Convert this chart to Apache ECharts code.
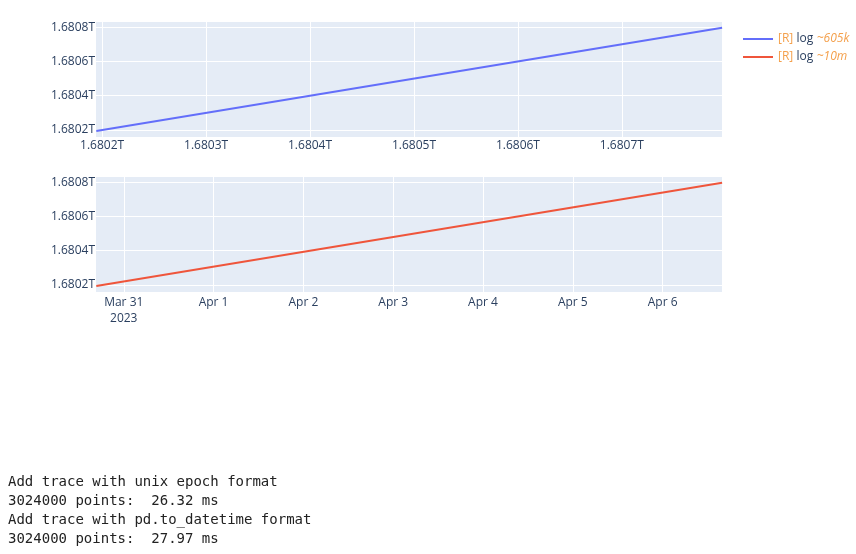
<!DOCTYPE html>
<html><head><meta charset="utf-8">
<script src="https://cdn.jsdelivr.net/npm/echarts@6/dist/echarts.min.js"></script>
<style>html,body{margin:0;padding:0;background:#fff}#c{width:856px;height:554px}</style>
</head><body><div id="c"></div>
<script>
const seriesNames = ['[R] log ~605k', '[R] log ~10m'];
const xValues = [1680194400000, 1680796400000];
const yValues = [1680194400000, 1680796400000];
const topXTicks = [1.6802e12, 1.6803e12, 1.6804e12, 1.6805e12, 1.6806e12, 1.6807e12];
const yTicks = [1.6802e12, 1.6804e12, 1.6806e12, 1.6808e12];
const dayTicks = [Date.UTC(2023,2,31),Date.UTC(2023,3,1),Date.UTC(2023,3,2),Date.UTC(2023,3,3),Date.UTC(2023,3,4),Date.UTC(2023,3,5),Date.UTC(2023,3,6)];
const dayLabels = ['Mar 31\n2023','Apr 1','Apr 2','Apr 3','Apr 4','Apr 5','Apr 6'];
const logLines = ['Add trace with unix epoch format','3024000 points:  26.32 ms','Add trace with pd.to_datetime format','3024000 points:  27.97 ms'];

const data = xValues.map((x,i)=>[x, yValues[i]]);
const xMin = 1680194100000, xMax = 1680796300000;
const yMin = 1680159000000, yMax = 1680830000000;
const tfmt = v => (v/1e12).toFixed(4) + 'T';
const lab = {color:'#2a3f5f', fontSize:12, fontFamily:'Open Sans, sans-serif'};
function yAxis(idx){
  return {type:'value', gridIndex:idx, min:yMin, max:yMax,
    axisLine:{show:false}, axisTick:{show:false, customValues:yTicks},
    splitLine:{show:true, lineStyle:{color:'#fff', width:1}},
    axisLabel:Object.assign({customValues:yTicks, formatter:tfmt, margin:1}, lab)};
}
const chart = echarts.init(document.getElementById('c'));
chart.setOption({
  animation:false,
  legend:{left:738, top:28, orient:'vertical', itemGap:6, itemWidth:30, itemHeight:2,
    icon:'rect',
    formatter: n => n==seriesNames[0] ? '{o|[R]} {d|log} {i|~605k}' : '{o|[R]} {d|log} {i|~10m}',
    textStyle:{rich:{o:{color:'#f4a04c',fontSize:12,fontFamily:'Open Sans, sans-serif'},
      d:{color:'#2a3f5f',fontSize:12,fontFamily:'Open Sans, sans-serif'},
      i:{color:'#f4a04c',fontSize:12,fontStyle:'italic',fontFamily:'Open Sans, sans-serif'}}},
    data:seriesNames},
  grid:[{left:96, top:22, width:626, height:115, backgroundColor:'#E5ECF6', show:true, borderWidth:0},
        {left:96, top:177, width:626, height:115, backgroundColor:'#E5ECF6', show:true, borderWidth:0}],
  xAxis:[
    {type:'value', gridIndex:0, min:xMin, max:xMax,
     axisLine:{show:false}, axisTick:{show:false, customValues:topXTicks},
     splitLine:{show:true, lineStyle:{color:'#fff'}},
     axisLabel:Object.assign({customValues:topXTicks, formatter:tfmt, margin:3}, lab)},
    {type:'value', gridIndex:1, min:xMin, max:xMax,
     axisLine:{show:false}, axisTick:{show:false, customValues:dayTicks},
     splitLine:{show:true, lineStyle:{color:'#fff'}},
     axisLabel:Object.assign({customValues:dayTicks, lineHeight:16, margin:3,
       formatter:v => dayLabels[dayTicks.indexOf(v)]}, lab)}
  ],
  yAxis:[yAxis(0), yAxis(1)],
  series:[
    {name:seriesNames[0], type:'line', xAxisIndex:0, yAxisIndex:0, data:data, showSymbol:false,
     lineStyle:{color:'#636EFA', width:2}, itemStyle:{color:'#636EFA'}},
    {name:seriesNames[1], type:'line', xAxisIndex:1, yAxisIndex:1, data:data, showSymbol:false,
     lineStyle:{color:'#EF553B', width:2}, itemStyle:{color:'#EF553B'}}
  ],
  graphic: logLines.map((t,i)=>({type:'text', left:8, top:475+i*19,
    style:{text:t, fill:'#222', font:'14px "DejaVu Sans Mono", monospace'}}))
});
</script></body></html>
